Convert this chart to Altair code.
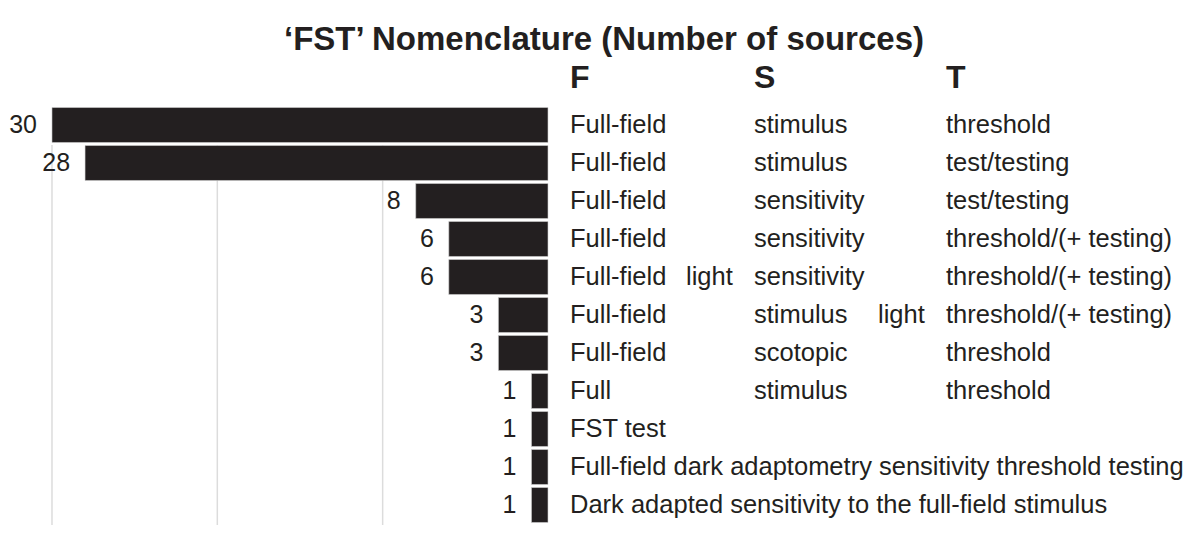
import altair as alt
import pandas as pd

# ---- data ----
counts = [30, 28, 8, 6, 6, 3, 3, 1, 1, 1, 1]
term_f = ["Full-field", "Full-field", "Full-field", "Full-field", "Full-field",
          "Full-field", "Full-field", "Full", "FST test",
          "Full-field dark adaptometry sensitivity threshold testing",
          "Dark adapted sensitivity to the full-field stimulus"]
mid_fs = ["", "", "", "", "light", "", "", "", "", "", ""]
term_s = ["stimulus", "stimulus", "sensitivity", "sensitivity", "sensitivity",
          "stimulus", "scotopic", "stimulus", "", "", ""]
mid_st = ["", "", "", "", "", "light", "", "", "", "", ""]
term_t = ["threshold", "test/testing", "test/testing", "threshold/(+ testing)",
          "threshold/(+ testing)", "threshold/(+ testing)", "threshold",
          "threshold", "", "", ""]
grid_values = [10, 20, 30]
header_f, header_s, header_t = "F", "S", "T"
title_text = "\u2018FST\u2019 Nomenclature (Number of sources)"

FONT = "Liberation Sans, Arial, Helvetica, sans-serif"
INK = "#231f20"
ROW_FS = 25.5

df = pd.DataFrame({
    "r": list(range(len(counts))),
    "n": counts,
    "f": term_f,
    "fs": mid_fs,
    "s": term_s,
    "st": mid_st,
    "t": term_t,
})
grid_df = pd.DataFrame({"g": grid_values})

xscale = alt.Scale(domain=[0, 32.66], reverse=True, nice=False, zero=True)
y = alt.Y("r:O", axis=None,
          scale=alt.Scale(paddingInner=0.08, paddingOuter=0.04))

base = alt.Chart(df)

grid = alt.Chart(grid_df).mark_rule(color="#dcdcdc", strokeWidth=1.5).encode(
    x=alt.X("g:Q", scale=xscale, axis=None),
    y=alt.value(39),
    y2=alt.value(419),
)

bars = base.mark_bar(color=INK, stroke="#d0d0d0", strokeWidth=0.6).encode(
    x=alt.X("n:Q", scale=xscale, axis=None),
    x2=alt.datum(0),
    y=y,
)

nums = base.mark_text(align="right", baseline="middle", dx=-15,
                      fontSize=25, font=FONT, color=INK).encode(
    x=alt.X("n:Q", scale=xscale, axis=None),
    y=y,
    text="n:Q",
)


def col(field, px):
    return base.mark_text(align="left", baseline="middle", fontSize=ROW_FS,
                          font=FONT, color=INK).encode(
        x=alt.value(px), y=y, text=f"{field}:N")


def header(txt, px):
    return alt.Chart(pd.DataFrame({"h": [txt]})).mark_text(
        align="left", baseline="alphabetic", fontSize=32, fontWeight="bold",
        font=FONT, color=INK).encode(x=alt.value(px), y=alt.value(-18),
                                     text="h:N")


title = alt.Chart(pd.DataFrame({"h": [title_text]})).mark_text(
    align="center", baseline="alphabetic", fontSize=33, fontWeight="bold",
    font=FONT, color=INK).encode(x=alt.value(596), y=alt.value(-56),
                                 text="h:N")

chart = alt.layer(
    grid, bars, nums,
    col("f", 562), col("fs", 678), col("s", 746), col("st", 870), col("t", 938),
    header(header_f, 562), header(header_s, 746), header(header_t, 938),
    title,
).properties(
    width=540, height=418,
    padding={"left": 0, "top": 98, "right": 644, "bottom": 5},
    autosize=alt.AutoSizeParams(type="none"),
    background="white",
).configure_view(stroke=None)

chart.save("out.html", embed_options={"renderer": "svg", "actions": False})
